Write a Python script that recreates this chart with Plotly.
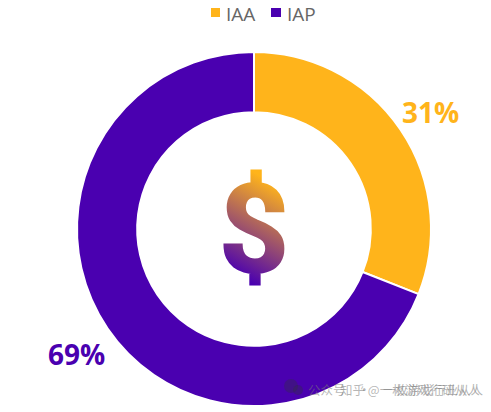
import plotly.graph_objects as go

labels = ["IAA", "IAP"]
values = [31, 69]
percent_labels = ["31%", "69%"]
colors = ["#FFB41B", "#4A00B0"]

W, H = 491, 412

# px -> paper fractions, the reference is a fixed size picture
def px(x):
    return x / W

def py(y):
    return 1 - y / H

fig = go.Figure()
fig.add_trace(go.Pie(
    labels=labels,
    values=values,
    hole=0.66,
    sort=False,
    direction="clockwise",
    rotation=0,
    textinfo="none",
    showlegend=False,
    marker=dict(colors=colors, line=dict(color="white", width=2)),
    domain=dict(x=[px(77), px(431)], y=[py(406), py(52)]),
))

font_family = "Open Sans"


def add_text(x, y, text, size, color, family=font_family, xanchor="center"):
    fig.add_annotation(x=px(x), y=py(y), text=text, showarrow=False,
                       xref="paper", yref="paper", xanchor=xanchor, yanchor="middle",
                       font=dict(family=family, size=size, color=color))


def add_swatch(x0, x1, color):
    fig.add_shape(type="rect", xref="paper", yref="paper", layer="above",
                  x0=px(x0), x1=px(x1), y0=py(17), y1=py(8),
                  fillcolor=color, line=dict(width=0))


# hand made legend, plotly's own keeps too much gap between swatch and text
add_swatch(211, 220, colors[0])
add_text(224, 14, labels[0], 19, "#666666", xanchor="left")
add_swatch(271, 281, colors[1])
add_text(285, 14, labels[1], 19, "#666666", xanchor="left")

add_text(430, 112, f"<b>{percent_labels[0]}</b>", 28, colors[0])
add_text(76, 354, f"<b>{percent_labels[1]}</b>", 28, colors[1])
add_text(254, 230, "<b>$</b>", 122, "#A85C60", family="Roboto")

# watermark, two overlaid strings and the little bubble logo
for cx, cy, r in [(291, 386, 7), (298, 390, 5)]:
    fig.add_shape(type="circle", xref="paper", yref="paper", layer="above",
                  x0=px(cx - r), x1=px(cx + r), y0=py(cy + r), y1=py(cy - r),
                  fillcolor="rgba(50,50,60,0.35)", line=dict(width=0))
add_text(306, 389, "公众号\u3000·\u3000一枚游戏行业从人", 12.5, "rgba(120,120,120,0.55)",
         family="Noto Sans CJK SC", xanchor="left")
add_text(338, 389, "知乎 @一枚游戏行研从人", 12.5, "rgba(120,120,120,0.55)",
         family="Noto Sans CJK SC", xanchor="left")

fig.update_layout(
    width=W, height=H,
    paper_bgcolor="white",
    margin=dict(l=0, r=0, t=0, b=0, autoexpand=False),
    font=dict(family=font_family, size=18, color="#595959"),
)

# plotly has no gradient on text, so put one on the $ after drawing
post_script = """
document.body.style.margin = '0';
var ns = 'http://www.w3.org/2000/svg';
var grad = document.createElementNS(ns, 'linearGradient');
grad.setAttribute('id', 'dollarGrad');
grad.setAttribute('x1', '0.6'); grad.setAttribute('y1', '0.12');
grad.setAttribute('x2', '0.4'); grad.setAttribute('y2', '0.85');
[['0', '#FFB41B'], ['1', '#4A00B0']].forEach(function (s) {
  var stop = document.createElementNS(ns, 'stop');
  stop.setAttribute('offset', s[0]);
  stop.setAttribute('stop-color', s[1]);
  grad.appendChild(stop);
});
document.querySelectorAll('.annotation-text').forEach(function (t) {
  if (t.textContent === '$') {
    var defs = document.createElementNS(ns, 'defs');
    defs.appendChild(grad);
    t.ownerSVGElement.appendChild(defs);
    t.style.fill = 'url(#dollarGrad)';
    t.style.stroke = 'url(#dollarGrad)';
    t.style.strokeWidth = '2px';
    t.querySelectorAll('tspan').forEach(function (b) { b.style.fill = 'url(#dollarGrad)'; });
  }
});
"""

fig.write_html("out.html", post_script=post_script, config=dict(displayModeBar=False))
